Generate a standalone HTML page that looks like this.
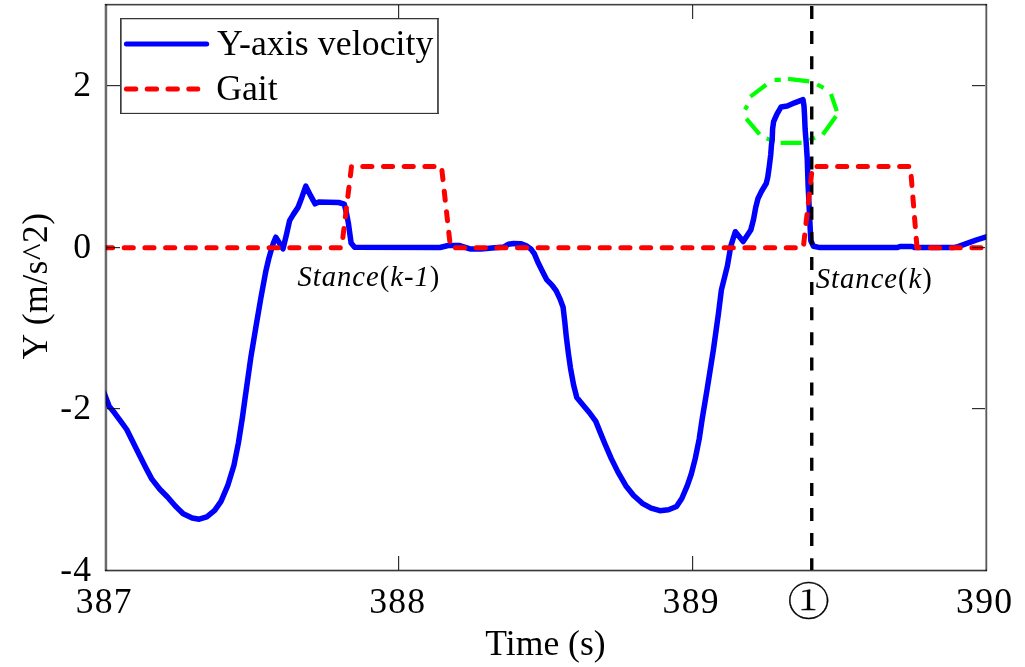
<!DOCTYPE html>
<html><head><meta charset="utf-8"><title>Y-axis velocity</title>
<style>
html,body{margin:0;padding:0;background:#fff;}
svg{display:block;}
text{font-family:"Liberation Serif","Times New Roman",serif;fill:#000;}
</style></head>
<body>
<svg width="1025" height="667" viewBox="0 0 1025 667">
<rect width="1025" height="667" fill="#fff"/>
<defs><clipPath id="c"><rect x="105.8" y="4.75" width="880.40" height="565.25"/></clipPath></defs>
<g clip-path="url(#c)">
<path d="M750.4 96.6L766.2 84.8M774.5 79.9L780.8 79.8M788.0 78.9L809.2 81.3M817.2 84.5L823.6 87.8M831.0 94.0L836.8 111.2M836.0 116.2L822.8 134.4M815 137.6L809.5 140.2M801.6 142.9L780.6 142.9M772 140.6L766.6 138.4M759.6 134.3L746.3 118.6M745 109.6L747.3 105.6" fill="none" stroke="#00ff00" stroke-width="4.2"/>
<polyline points="103.5,391.5 109.3,406.5 114.3,412.6 121.0,421.6 126.7,429.5 132.3,440.7 139.0,454.2 145.8,467.7 151.7,478.9 159.6,489.0 167.5,497.0 175.3,506.0 183.2,513.8 192.2,518.0 199.2,519.2 206.8,516.8 214.7,510.4 221.0,501.4 227.7,485.7 233.9,465.5 238.4,443.0 242.3,418.2 245.1,398.0 250.8,357.6 255.9,327.0 260.7,298.9 265.9,270.8 268.8,258.5 271.0,250.8 273.4,243.0 275.8,237.2 283.0,248.8 286.6,234.0 289.6,220.6 293.2,214.6 298.0,207.4 301.9,197.2 305.8,186.2 310.6,195.7 315.1,203.8 318.8,202.0 338.7,202.5 344.3,204.2 346.6,213.7 348.3,222.7 351.1,243.0 354.6,247.2 440.0,247.5 448.2,245.5 459.0,245.5 470.0,248.9 481.0,248.9 492.0,248.0 504.2,246.9 508.3,244.2 513.8,243.5 520.6,243.7 526.0,245.5 530.8,248.9 534.3,253.7 538.4,263.3 542.5,271.4 546.6,279.6 552.0,285.1 556.1,290.6 560.0,298.9 563.1,307.3 564.8,322.0 566.3,336.7 568.4,353.5 570.5,368.2 573.6,385.0 576.8,397.6 585.5,408.0 589.3,412.5 595.8,421.4 600.5,433.1 605.3,444.8 611.2,458.4 618.0,472.1 625.8,485.7 633.6,495.5 642.3,503.3 651.1,508.1 659.9,510.7 668.5,509.8 676.5,506.5 681.8,498.5 687.3,485.7 691.3,474.0 695.3,458.4 699.2,439.0 702.1,419.5 707.2,388.7 713.4,349.8 718.4,313.8 721.4,289.9 727.4,265.9 730.8,246.1 735.3,231.7 743.2,241.5 750.8,230.0 753.5,219.5 755.7,207.5 758.0,198.5 761.7,191.0 766.2,183.5 767.7,177.5 769.2,167.0 770.7,155.0 771.5,144.5 772.2,140.0 772.6,129.0 773.6,121.7 776.8,114.4 781.0,107.0 787.3,106.0 794.6,102.8 803.0,99.7 804.0,106.0 804.6,116.5 805.1,129.0 806.2,142.7 807.2,158.0 808.1,185.0 809.4,212.0 810.8,240.7 813.5,246.3 820.0,247.6 897.0,247.6 900.0,246.5 912.0,246.5 915.0,247.6 953.0,247.6 958.0,246.6 967.0,243.3 976.0,240.1 988.0,236.4" fill="none" stroke="#0000ff" stroke-width="5.5" stroke-linejoin="round" stroke-linecap="round"/>
<line x1="811.75" y1="6" x2="811.75" y2="572" stroke="#000" stroke-width="3.4" stroke-dasharray="13 12.1"/>
<g fill="none" stroke="#ff0000" stroke-width="5" stroke-linejoin="round" stroke-linecap="round" stroke-dasharray="9.1 11.6">
<polyline points="103.5,247.7 341.6,247.7 351.5,166.5 441.5,166.5 450.5,247.7"/>
<polyline points="450.5,247.7 803.3,247.7 812.4,166.5 910.4,166.5 917.0,247.7" stroke-dasharray="9.1 11.57" stroke-dashoffset="-5"/>
<polyline points="917.0,247.7 990.0,247.7" stroke-dashoffset="-13.5"/>
</g>
</g>
<rect x="398" y="556" width="1" height="14" fill="#000" fill-opacity="0.812"/>
<rect x="399" y="556" width="1" height="14" fill="#000" fill-opacity="0.153"/>
<rect x="398" y="5" width="1" height="14" fill="#000" fill-opacity="0.812"/>
<rect x="399" y="5" width="1" height="14" fill="#000" fill-opacity="0.153"/>
<rect x="692" y="556" width="1" height="14" fill="#000" fill-opacity="0.812"/>
<rect x="693" y="556" width="1" height="14" fill="#000" fill-opacity="0.153"/>
<rect x="692" y="5" width="1" height="14" fill="#000" fill-opacity="0.812"/>
<rect x="693" y="5" width="1" height="14" fill="#000" fill-opacity="0.153"/>
<rect x="107" y="85" width="13" height="1" fill="#000" fill-opacity="0.812"/>
<rect x="107" y="86" width="13" height="1" fill="#000" fill-opacity="0.153"/>
<rect x="972" y="85" width="13" height="1" fill="#000" fill-opacity="0.812"/>
<rect x="972" y="86" width="13" height="1" fill="#000" fill-opacity="0.153"/>
<rect x="107" y="247" width="13" height="1" fill="#000" fill-opacity="0.812"/>
<rect x="107" y="248" width="13" height="1" fill="#000" fill-opacity="0.153"/>
<rect x="972" y="247" width="13" height="1" fill="#000" fill-opacity="0.812"/>
<rect x="972" y="248" width="13" height="1" fill="#000" fill-opacity="0.153"/>
<rect x="107" y="408" width="13" height="1" fill="#000" fill-opacity="0.812"/>
<rect x="107" y="409" width="13" height="1" fill="#000" fill-opacity="0.153"/>
<rect x="972" y="408" width="13" height="1" fill="#000" fill-opacity="0.812"/>
<rect x="972" y="409" width="13" height="1" fill="#000" fill-opacity="0.153"/>
<rect x="105" y="3" width="882" height="1" fill="#000" fill-opacity="0.106"/>
<rect x="105" y="4" width="882" height="1" fill="#000" fill-opacity="0.749"/>
<rect x="105" y="5" width="882" height="1" fill="#000" fill-opacity="0.341"/>
<rect x="105" y="569" width="882" height="1" fill="#000" fill-opacity="0.231"/>
<rect x="105" y="570" width="882" height="1" fill="#000" fill-opacity="0.773"/>
<rect x="105" y="571" width="882" height="1" fill="#000" fill-opacity="0.278"/>
<rect x="104" y="4" width="1" height="567" fill="#000" fill-opacity="0.184"/>
<rect x="105" y="4" width="2" height="567" fill="#000" fill-opacity="0.584"/>
<rect x="107" y="4" width="1" height="567" fill="#000" fill-opacity="0.122"/>
<rect x="985" y="4" width="1" height="567" fill="#000" fill-opacity="0.396"/>
<rect x="986" y="4" width="1" height="567" fill="#000" fill-opacity="0.647"/>
<rect x="987" y="4" width="1" height="567" fill="#000" fill-opacity="0.153"/>
<g font-size="35.6" text-anchor="end" letter-spacing="1">
<text x="92" y="96.2">2</text>
<text x="92" y="257.7">0</text>
<text x="92" y="419.2">-2</text>
<text x="92" y="580.7">-4</text>
</g>
<g font-size="35.6" text-anchor="middle" letter-spacing="1.3">
<text x="104.3" y="612.5">387</text>
<text x="397.8" y="612.5">388</text>
<text x="691.2" y="612.5">389</text>
<text x="984.7" y="612.5">390</text>
</g>
<text x="545.5" y="655.4" font-size="35.6" text-anchor="middle">Time (s)</text>
<text transform="translate(787.5,615.1) scale(1.047,0.956)" font-size="40.5" style="font-family:'Liberation Serif','Noto Serif CJK SC',serif" stroke="#000" stroke-width="0.3">①</text>
<text transform="translate(47,286) rotate(-90)" font-size="35.6" text-anchor="middle" letter-spacing="0.45">Y (m/s^2)</text>
<g font-size="28.6" font-style="italic" letter-spacing="1">
<text x="297.5" y="285.6">Stance<tspan font-style="normal">(</tspan>k-1<tspan font-style="normal">)</tspan></text>
<text x="815.8" y="288">Stance<tspan font-style="normal">(</tspan>k<tspan font-style="normal">)</tspan></text>
</g>
<rect x="120" y="18" width="319" height="96" fill="#fff"/>
<rect x="120" y="18" width="319" height="1" fill="#000" fill-opacity="0.780"/>
<rect x="122" y="19" width="315" height="1" fill="#000" fill-opacity="0.216"/>
<rect x="120" y="113" width="319" height="1" fill="#000" fill-opacity="0.796"/>
<rect x="122" y="112" width="315" height="1" fill="#000" fill-opacity="0.122"/>
<rect x="120" y="19" width="1" height="94" fill="#000" fill-opacity="0.765"/>
<rect x="121" y="19" width="1" height="94" fill="#000" fill-opacity="0.522"/>
<rect x="437" y="19" width="1" height="94" fill="#000" fill-opacity="0.686"/>
<rect x="438" y="19" width="1" height="94" fill="#000" fill-opacity="0.624"/>
<line x1="126.4" y1="44" x2="206.7" y2="44" stroke="#0000ff" stroke-width="5" stroke-linecap="round"/>
<line x1="126.4" y1="89" x2="197.8" y2="89" stroke="#ff0000" stroke-width="5" stroke-linecap="round" stroke-dasharray="9.4 11.4"/>
<g font-size="35.7">
<text x="217" y="55.2" letter-spacing="0.1">Y-axis velocity</text>
<text x="216.2" y="99.5">Gait</text>
</g>
</svg>
</body></html>
